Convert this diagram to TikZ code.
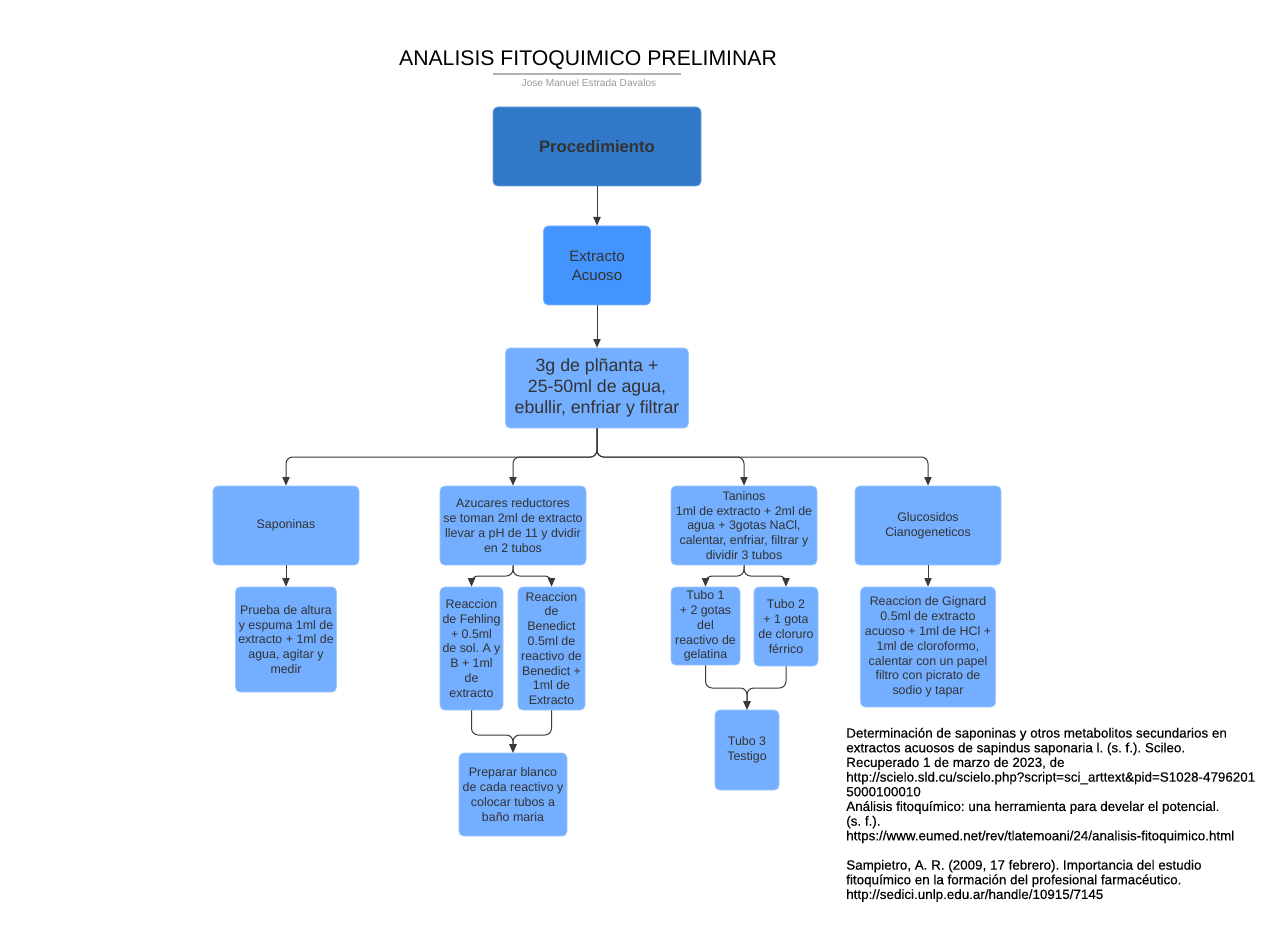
\documentclass[tikz,border=0pt]{standalone}
\usepackage{fontspec}
\setmainfont{Liberation Sans}
\usetikzlibrary{arrows.meta}
\newlength\pxu \setlength\pxu{0.75pt}
\definecolor{procblue}{HTML}{3178C9}
\definecolor{midblue}{HTML}{4394FD}
\definecolor{lightblue}{HTML}{74AEFF}
\definecolor{textgray}{HTML}{333333}
\definecolor{linegray}{HTML}{3A3A3A}
\frenchspacing
\begin{document}
\begin{tikzpicture}[x=0.75pt,y=-0.75pt,
  box/.style={rectangle, rounded corners=3.5pt, fill=lightblue, draw=lightblue!70!white, line width=0.5pt,
    text=textgray, align=center, inner sep=0pt,
    font=\fontsize{9.3}{11.1}\selectfont},
  conn/.style={draw=linegray, line width=0.75pt, rounded corners=5pt,
    -{Triangle[length=6.5pt,width=5.5pt]}}]
\useasboundingbox[fill=white] (0,0) rectangle (1280,948);

% title
\node[font=\fontsize{15.9}{18}\selectfont, text=black] (title) at (588,60) {ANALISIS FITOQUIMICO PRELIMINAR};
\coordinate (ulA) at (493,74);
\coordinate (ulB) at (681,74);
\draw[draw=black!30, line width=1.1pt] (ulA) -- (ulB);
\node[font=\fontsize{7.6}{9}\selectfont, text=black!40] (author) at (589,83) {Jose Manuel Estrada Davalos};

% main nodes
\node[box, fill=procblue, draw=procblue!70!white, minimum width=208\pxu, minimum height=79\pxu,
  font=\fontsize{12.5}{15}\selectfont\bfseries] (proc) at (597,146.5) {Procedimiento};
\node[box, fill=midblue, draw=midblue!70!white, minimum width=107\pxu, minimum height=79\pxu,
  font=\fontsize{11.3}{14.3}\selectfont] (ext) at (597,265.5) {Extracto\\Acuoso};
\node[box, minimum width=183\pxu, minimum height=80\pxu,
  font=\fontsize{13.3}{16}\selectfont] (plant) at (597,388) {3g de plñanta +\\25-50ml de agua,\\ebullir, enfriar y filtrar};

\node[box, minimum width=146\pxu, minimum height=79\pxu] (sap) at (286,525.5) {Saponinas};
\node[box, minimum width=146\pxu, minimum height=79\pxu] (azu) at (513,525.5) {Azucares reductores\\se toman 2ml de extracto\\llevar a pH de 11 y dvidir\\en 2 tubos};
\node[box, minimum width=146\pxu, minimum height=79\pxu] (tan) at (744,525.5) {Taninos\\1ml de extracto + 2ml de\\agua + 3gotas NaCl,\\calentar, enfriar, filtrar y\\dividir 3 tubos};
\node[box, minimum width=146\pxu, minimum height=79\pxu] (glu) at (928,525.5) {Glucosidos\\Cianogeneticos};

\node[box, minimum width=101\pxu, minimum height=105\pxu] (prueba) at (286,639.5) {Prueba de altura\\y espuma 1ml de\\extracto + 1ml de\\agua, agitar y\\medir};
\node[box, minimum width=63\pxu, minimum height=123\pxu] (fehl) at (471.5,648.5) {Reaccion\\de Fehling\\+ 0.5ml\\de sol. A y\\B + 1ml\\de\\extracto};
\node[box, minimum width=67\pxu, minimum height=123\pxu] (bene) at (551.5,648.5) {Reaccion\\de\\Benedict\\0.5ml de\\reactivo de\\Benedict +\\1ml de\\Extracto};
\node[box, minimum width=108\pxu, minimum height=83\pxu] (prep) at (513,794.5) {Preparar blanco\\de cada reactivo y\\colocar tubos a\\baño maria};
\node[box, minimum width=69\pxu, minimum height=78\pxu] (t1) at (705.5,626) {Tubo 1\\+ 2 gotas\\del\\reactivo de\\gelatina};
\node[box, minimum width=64\pxu, minimum height=79\pxu] (t2) at (786,626.5) {Tubo 2\\+ 1 gota\\de cloruro\\férrico};
\node[box, minimum width=64\pxu, minimum height=80\pxu] (t3) at (747,750) {Tubo 3\\Testigo};
\node[box, minimum width=135\pxu, minimum height=120\pxu] (gig) at (928,647) {Reaccion de Gignard\\0.5ml de extracto\\acuoso + 1ml de HCl +\\1ml de cloroformo,\\calentar con un papel\\filtro con picrato de\\sodio y tapar};

% references
\node[anchor=north west, align=left, inner sep=0pt, text=black,
  font=\fontsize{10.05}{11}\selectfont\addfontfeature{FakeBold=0.25}] (refs) at (846,727.5) {Determinación de saponinas y otros metabolitos secundarios en\\
extractos acuosos de sapindus saponaria l. (s. f.). Scileo.\\
Recuperado 1 de marzo de 2023, de\\
http://scielo.sld.cu/scielo.php?script=sci\_arttext\&pid=S1028-4796201\\
5000100010\\
Análisis fitoquímico: una herramienta para develar el potencial.\\
(s. f.).\\
https://www.eumed.net/rev/tlatemoani/24/analisis-fitoquimico.html\\
\mbox{}\\
Sampietro, A. R. (2009, 17 febrero). Importancia del estudio\\
fitoquímico en la formación del profesional farmacéutico.\\
http://sedici.unlp.edu.ar/handle/10915/7145};

% bus coordinates
\coordinate (bus) at (0,457);
\coordinate (azsplit) at (0,576);
\coordinate (tansplit) at (0,576);
\coordinate (merge1) at (0,735);
\coordinate (merge2) at (0,688);

% connectors
\draw[conn] (proc.south) -- (ext.north);
\draw[conn] (ext.south) -- (plant.north);
\draw[conn] (plant.south) -- (plant.south |- bus) -- (sap.north |- bus) -- (sap.north);
\draw[conn] (plant.south) -- (plant.south |- bus) -- (azu.north |- bus) -- (azu.north);
\draw[conn] (plant.south) -- (plant.south |- bus) -- (tan.north |- bus) -- (tan.north);
\draw[conn] (plant.south) -- (plant.south |- bus) -- (glu.north |- bus) -- (glu.north);

\draw[conn] (sap.south) -- (prueba.north);
\draw[conn] (azu.south) -- (azu.south |- azsplit) -- (fehl.north |- azsplit) -- (fehl.north);
\draw[conn] (azu.south) -- (azu.south |- azsplit) -- (bene.north |- azsplit) -- (bene.north);
\draw[conn] (fehl.south) -- (fehl.south |- merge1) -- (prep.north |- merge1) -- (prep.north);
\draw[conn] (bene.south) -- (bene.south |- merge1) -- (prep.north |- merge1) -- (prep.north);

\draw[conn] (tan.south) -- (tan.south |- tansplit) -- (t1.north |- tansplit) -- (t1.north);
\draw[conn] (tan.south) -- (tan.south |- tansplit) -- (t2.north |- tansplit) -- (t2.north);
\draw[conn] (t1.south) -- (t1.south |- merge2) -- (t3.north |- merge2) -- (t3.north);
\draw[conn] (t2.south) -- (t2.south |- merge2) -- (t3.north |- merge2) -- (t3.north);

\draw[conn] (glu.south) -- (gig.north);
\end{tikzpicture}
\end{document}
